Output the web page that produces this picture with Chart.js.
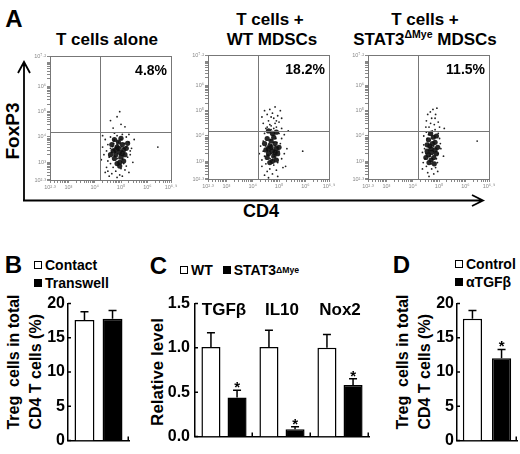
<!DOCTYPE html>
<html>
<head>
<meta charset="utf-8">
<script src="https://cdn.jsdelivr.net/npm/chart.js@4.4.1/dist/chart.umd.min.js"></script>
<style>
  body { margin: 0; background: #fff; }
  #page { position: relative; width: 520px; height: 454px; overflow: hidden; font-family: "Liberation Sans", Arial, sans-serif; color: #000; }
  canvas { position: absolute; }
  .t { position: absolute; transform: translate(-50%, -50%); white-space: pre; line-height: 1; font-weight: bold; text-align: center; }
  .rot { transform: translate(-50%, -50%) rotate(-90deg); }
  .lg { position: absolute; font-weight: bold; font-size: 14px; white-space: nowrap; }
  .lg .row { display: flex; align-items: center; height: 18px; }
  .lg .bx { display: inline-block; box-sizing: border-box; width: 8px; height: 8px; border: 1.5px solid #000; margin-right: 3px; }
  sup { font-size: 62%; line-height: 0; }
</style>
</head>
<body>
<div id="page">
  <svg width="520" height="454" style="position:absolute;left:0;top:0">
    <g stroke="#000" stroke-width="1.8" fill="none">
      <path d="M24 201 L24 62 M18 73 L24 62 L30 73"/>
      <path d="M23 200.5 L483 200.5 M472 195 L483 200.5 L472 206"/>
    </g>
  </svg>

  <div class="t" style="left:14px;top:19px;font-size:24px">A</div>
  <div class="t" style="left:107px;top:39px;font-size:17px">T cells alone</div>
  <div class="t" style="left:270px;top:19px;font-size:17px">T cells +</div>
  <div class="t" style="left:272px;top:39px;font-size:17px">WT MDSCs</div>
  <div class="t" style="left:425px;top:19px;font-size:17px">T cells +</div>
  <div class="t" style="left:425px;top:39px;font-size:17px">STAT3<sup>ΔMye</sup> MDSCs</div>
  <div class="t rot" style="left:12px;top:131px;font-size:19px">FoxP3</div>
  <div class="t" style="left:261px;top:211px;font-size:18px">CD4</div>

  <canvas id="facs1" width="148" height="141" style="left:32px;top:51px"></canvas>
  <canvas id="facs2" width="148" height="141" style="left:190px;top:50px"></canvas>
  <canvas id="facs3" width="148" height="141" style="left:350px;top:50px"></canvas>

  <div class="t" style="left:13.5px;top:265px;font-size:24px">B</div>
  <div class="t" style="left:158.5px;top:265.5px;font-size:24px">C</div>
  <div class="t" style="left:401.5px;top:265px;font-size:24px">D</div>

  <div id="lgB" class="lg" style="left:34px;top:256px"></div>
  <div id="lgC" class="lg" style="left:180px;top:261px"></div>
  <div id="lgD" class="lg" style="left:455px;top:255px"></div>

  <div class="t rot" style="left:24.5px;top:362px;font-size:16px;line-height:22px;text-align:left">Treg  cells in total
CD4 T cells (%)</div>
  <div class="t rot" style="left:157px;top:372px;font-size:17px">Relative level</div>
  <div class="t rot" style="left:413.5px;top:362px;font-size:16px;line-height:22px;text-align:left">Treg  cells in total
CD4 T cells (%)</div>

  <canvas id="barB" width="96" height="162" style="left:36px;top:291px"></canvas>
  <canvas id="barC" width="211" height="162" style="left:161px;top:289px"></canvas>
  <canvas id="barD" width="95" height="162" style="left:425px;top:291px"></canvas>
</div>

<script>
Chart.defaults.font.family = '"Liberation Sans", Arial, sans-serif';

// ---- panel A: dot plots, log10 CD4 (x) vs log10 FoxP3 (y)
// *Core = the solid dark middle of each cloud, *Dots = the loose cells round it
var aloneCore = [
  [4.95,3.4],[4.8,3.3],[5.1,3.5],[4.85,3.6],[5.0,3.2],[4.7,3.45],[5.15,3.3],[4.9,3.8],[5.05,3.7],[4.75,3.15],
  [4.95,3.0],[5.2,3.55],[4.65,3.7],[4.85,2.95],[5.1,3.05],[4.75,3.9],[5.0,3.95],[4.9,3.55],[5.05,3.35],[4.8,3.5],
  [4.6,3.3],[5.25,3.75],[4.95,2.85]
];
var aloneDots = [
  [4.9,3.5],[4.8,3.4],[5.0,3.6],[4.7,3.5],[4.85,3.7],[4.95,3.3],[5.05,3.45],[4.75,3.25],[4.9,3.8],[4.8,3.6],
  [5.1,3.55],[4.65,3.4],[4.88,3.15],[5.0,3.9],[4.72,3.75],[5.12,3.75],[4.68,3.62],[4.74,3.88],[5.06,3.12],[4.6,3.55],
  [4.55,3.2],[4.5,3.7],[5.2,3.6],[5.25,3.2],[4.6,2.95],[4.9,2.9],[5.1,2.95],[4.7,2.8],[4.45,3.45],[5.3,3.8],
  [4.6,4.0],[4.85,4.05],[5.05,4.1],[4.75,4.15],[5.2,4.0],[4.4,3.9],[4.5,3.05],[5.0,2.75],[4.8,2.65],[5.15,2.7],
  [4.65,2.55],[4.95,2.5],[4.45,2.8],[5.35,3.3],[4.35,3.3],[4.3,3.6],[4.25,3.1],[5.4,3.55],[5.45,3.0],[4.55,2.45],
  [5.05,2.45],[4.85,2.4],[4.4,2.6],[5.3,2.6],[5.5,3.9],[4.3,4.05],[5.3,4.1],[4.5,2.65],[5.2,2.85],[5.35,3.45],
  [4.7,4.35],[5.0,4.5],[4.85,4.8],[5.15,4.4],[4.6,4.65],[4.95,5.0],[6.4,3.6]
];
var wtCore = [
  [4.75,3.4],[4.6,3.3],[4.9,3.5],[4.65,3.6],[4.8,3.2],[4.5,3.45],[4.95,3.3],[4.7,3.8],[4.85,3.7],[4.55,3.15],
  [4.75,3.0],[5.0,3.55],[4.45,3.7],[4.65,2.95],[4.9,3.05],[4.55,3.9],[4.8,3.95],[4.7,3.55],[4.85,3.35],[4.6,3.5],
  [4.75,4.1],[4.6,4.2],[4.9,4.15]
];
var wtDots = [
  [4.75,3.5],[4.65,3.4],[4.85,3.6],[4.7,3.3],[4.8,3.75],[4.6,3.55],[4.9,3.35],[4.72,3.65],[4.82,3.2],[4.68,3.85],
  [4.58,3.25],[4.95,3.55],[4.62,3.7],[4.88,3.9],[4.55,3.45],[4.75,3.05],[4.66,3.1],[4.92,3.75],[4.5,3.6],[5.0,3.4],
  [4.45,3.2],[4.4,3.8],[5.05,3.7],[5.1,3.1],[4.5,2.9],[4.8,2.85],[4.65,2.7],[4.95,2.95],[4.4,3.4],[5.1,3.9],
  [4.55,2.6],[4.75,2.5],[4.9,2.65],[4.45,2.45],[5.2,3.3],[4.35,3.05],[4.3,3.6],[5.0,4.1],[4.45,4.1],[4.95,2.4],
  [4.6,2.35],[5.15,2.75],[4.35,2.8],[5.2,4.05],
  [4.5,4.3],[4.7,4.4],[4.9,4.35],[4.6,4.6],[4.8,4.7],[5.0,4.55],[4.4,4.5],[4.75,4.9],[4.55,4.85],[4.95,4.8],
  [4.65,5.05],[4.85,5.15],[5.1,4.3],[4.35,4.75],[4.7,4.25],[4.85,4.5],[5.05,5.0],[4.45,5.0],[4.65,4.45],[4.9,4.6],
  [4.55,4.35],[4.8,4.3],[4.7,4.75],[5.1,4.7],
  [5.3,3.5],[5.35,4.2],[4.25,3.3],[5.25,2.8],[5.9,3.4]
];
var koCore = [
  [4.72,3.35],[4.6,3.25],[4.85,3.45],[4.65,3.6],[4.8,3.15],[4.55,3.4],[4.9,3.3],[4.7,3.05],[4.75,3.7],[4.62,2.95],
  [4.85,3.75],[4.55,3.65],[4.95,3.55],[4.7,3.5],[4.82,2.9],[4.6,3.85],[4.78,3.95],[4.68,4.1],[4.9,4.0],[4.5,3.15]
];
var koDots = [
  [4.47,3.1],[4.42,3.65],[4.97,3.3],[5.02,3.9],[4.52,2.8],[4.72,2.7],[4.87,2.75],[4.57,2.55],[4.8,2.5],[4.42,4.0],
  [4.97,4.1],[5.07,3.5],[4.37,3.35],[4.62,2.4],[4.94,2.95],[4.52,4.15],[4.74,4.2],[4.6,3.42],[4.8,3.6],[4.65,3.2],
  [4.9,3.1],[4.55,3.9],[4.85,4.25],[4.68,4.5],[4.45,3.5],[5.05,3.7],[4.7,2.9],[4.5,3.3],[4.95,2.6],[4.4,2.95],
  [4.6,4.05],[4.85,4.7],[4.5,4.35],
  [4.62,4.35],[4.82,4.45],[4.72,4.7],[4.97,4.55],[4.52,4.6],[4.87,4.85],[4.67,4.95],[5.02,4.35],[4.77,5.05],[4.57,4.85],
  [4.92,5.1],
  [5.17,3.2],[5.2,4.3],[4.37,2.7],[6.45,3.8]
];
var facsPct = ['4.8%', '18.2%', '11.5%'];
var gateCD4 = 4.2;
var gateFoxP3 = 4.2;
var fcsTicksX = [2.3, 3, 4, 5, 6, 6.9];
var fcsTicksY = [2.3, 3, 4, 5, 6, 7.2];

// ---- panel B
var bLabels = ['Contact', 'Transwell'];
var contactVal = [17.6], contactErr = [1.2];
var transwellVal = [17.8], transwellErr = [1.2];

// ---- panel C
var genes = ['TGFβ', 'IL10', 'Nox2'];
var cLabels = ['WT', 'STAT3<sup>ΔMye</sup>'];
var wtRel = [1.01, 1.01, 1.00], wtErr = [0.16, 0.19, 0.15];
var koRel = [0.44, 0.08, 0.58], koErr = [0.08, 0.03, 0.07];
var koSig = [true, true, true];

// ---- panel D
var dLabels = ['Control', 'αTGFβ'];
var controlVal = [17.8], controlErr = [1.2];
var antiVal = [12.0], antiErr = [1.3];
var antiSig = [true];

var supMap = {'0':'⁰','1':'¹','2':'²','3':'³','4':'⁴','5':'⁵','6':'⁶','7':'⁷','8':'⁸','9':'⁹','.':'·'};
function expLabel(v) {
  return '10' + String(v).split('').map(function(c) { return supMap[c]; }).join('');
}

// major ticks get a label, the in-between decade ticks only a mark
function logTicks(lo, hi, major) {
  var t = major.map(function(v) { return {value: v, lab: true}; });
  for (var n = 2; n < 8; n++) {
    for (var k = 2; k < 10; k++) {
      var v = n + Math.log10(k);
      if (v > lo && v < hi) t.push({value: v, lab: false});
    }
  }
  return t.sort(function(a, b) { return a.value - b.value; });
}

var facsFrame = {
  id: 'facsFrame',
  afterDatasetsDraw: function(chart, args, o) {
    var ctx = chart.ctx, a = chart.chartArea;
    var gx = chart.scales.x.getPixelForValue(o.gateX);
    var gy = chart.scales.y.getPixelForValue(o.gateY);
    ctx.save();
    ctx.strokeStyle = '#777';
    ctx.lineWidth = 1;
    ctx.strokeRect(a.left + 0.5, a.top + 0.5, a.right - a.left, a.bottom - a.top);
    ctx.beginPath();
    ctx.moveTo(Math.round(gx) + 0.5, a.top); ctx.lineTo(Math.round(gx) + 0.5, a.bottom);
    ctx.moveTo(a.left, Math.round(gy) + 0.5); ctx.lineTo(a.right, Math.round(gy) + 0.5);
    ctx.stroke();
    ctx.fillStyle = '#000';
    ctx.font = 'bold 14px "Liberation Sans", Arial, sans-serif';
    ctx.textAlign = 'right';
    ctx.textBaseline = 'middle';
    ctx.fillText(o.pct, a.right - 4, a.top + 15);
    ctx.restore();
  }
};

function toXY(list) {
  return list.map(function(p) { return {x: p[0], y: p[1]}; });
}

function makeFacs(id, core, dots, pct) {
  var tickFont = {size: 5.5};
  return new Chart(document.getElementById(id), {
    type: 'scatter',
    data: {
      datasets: [
        {data: toXY(core), pointRadius: 2.6, pointBorderWidth: 0, pointBackgroundColor: 'rgba(15,15,15,0.9)'},
        {data: toXY(dots), pointRadius: 0.9, pointBorderWidth: 0, pointBackgroundColor: '#222'}
      ]
    },
    plugins: [facsFrame],
    options: {
      responsive: false,
      animation: false,
      events: [],
      layout: {padding: {top: 5, right: 9, left: 0, bottom: 0}},
      plugins: {
        legend: {display: false},
        tooltip: {enabled: false},
        facsFrame: {gateX: gateCD4, gateY: gateFoxP3, pct: pct}
      },
      scales: {
        x: {
          type: 'linear', min: 2.3, max: 6.9,
          afterBuildTicks: function(s) { s.ticks = logTicks(2.3, 6.9, fcsTicksX); },
          afterFit: function(s) { s.height = 12; },
          ticks: {
            autoSkip: false, maxRotation: 0, minRotation: 0, padding: 1,
            color: '#888', font: tickFont,
            callback: function(v, i, t) { return t[i].lab ? expLabel(v) : ''; }
          },
          grid: {drawOnChartArea: false, tickLength: 3, color: '#888'},
          border: {color: '#777'}
        },
        y: {
          type: 'linear', min: 2.3, max: 7.2,
          afterBuildTicks: function(s) { s.ticks = logTicks(2.3, 7.2, fcsTicksY); },
          afterFit: function(s) { s.width = 18; },
          ticks: {
            autoSkip: false, padding: 1,
            color: '#888', font: tickFont,
            callback: function(v, i, t) { return t[i].lab ? expLabel(v) : ''; }
          },
          grid: {drawOnChartArea: false, tickLength: 3, color: '#888'},
          border: {color: '#777'}
        }
      }
    }
  });
}

makeFacs('facs1', aloneCore, aloneDots, facsPct[0]);
makeFacs('facs2', wtCore, wtDots, facsPct[1]);
makeFacs('facs3', koCore, koDots, facsPct[2]);

// error bars (upper only), stars, inward ticks, group names
var barDecor = {
  id: 'barDecor',
  afterDatasetsDraw: function(chart, args, o) {
    var ctx = chart.ctx, a = chart.chartArea;
    var xs = chart.scales.x, ys = chart.scales.y;
    ctx.save();
    ctx.strokeStyle = '#000';
    ctx.fillStyle = '#000';
    ctx.lineWidth = 1.5;
    chart.data.datasets.forEach(function(ds, di) {
      chart.getDatasetMeta(di).data.forEach(function(bar, i) {
        var top = ys.getPixelForValue(ds.data[i] + ds.err[i]);
        ctx.beginPath();
        ctx.moveTo(bar.x, bar.y); ctx.lineTo(bar.x, top);
        ctx.moveTo(bar.x - 4, top); ctx.lineTo(bar.x + 4, top);
        ctx.stroke();
        if (ds.sig && ds.sig[i]) {
          ctx.font = 'bold 15px "Liberation Sans", Arial, sans-serif';
          ctx.textAlign = 'center';
          ctx.textBaseline = 'alphabetic';
          ctx.fillText('*', bar.x, top + 2);
        }
      });
    });
    // inward tick marks
    ctx.beginPath();
    ys.ticks.forEach(function(t) {
      var y = ys.getPixelForValue(t.value);
      ctx.moveTo(a.left, y); ctx.lineTo(a.left + 3, y);
    });
    var n = chart.data.labels.length, w = (a.right - a.left) / n;
    for (var i = 1; i <= n; i++) {
      var x = a.left + w * i - 0.75;
      ctx.moveTo(x, a.bottom); ctx.lineTo(x, a.bottom - 4);
    }
    ctx.stroke();
    if (o.showGroups) {
      ctx.font = 'bold 17px "Liberation Sans", Arial, sans-serif';
      ctx.textAlign = 'center';
      ctx.textBaseline = 'middle';
      chart.data.labels.forEach(function(l, i) {
        ctx.fillText(l, xs.getPixelForValue(i), a.top + 7);
      });
    }
    ctx.restore();
  }
};

function makeBars(id, labels, sets, yMax, yStep, yWidth, tickPad, catPct, barPct, fmt, showGroups) {
  return new Chart(document.getElementById(id), {
    type: 'bar',
    data: {
      labels: labels,
      datasets: sets.map(function(s) {
        return {
          label: s.label, data: s.data, err: s.err, sig: s.sig,
          backgroundColor: s.fill, borderColor: '#000', borderWidth: 1.5,
          categoryPercentage: catPct, barPercentage: barPct
        };
      })
    },
    plugins: [barDecor],
    options: {
      responsive: false,
      animation: false,
      events: [],
      layout: {padding: {top: 10, right: 3, left: 0, bottom: 10}},
      plugins: {
        legend: {display: false},
        tooltip: {enabled: false},
        barDecor: {showGroups: showGroups}
      },
      scales: {
        x: {
          ticks: {display: false},
          grid: {display: false, drawTicks: false},
          border: {color: '#000', width: 1.5},
          afterFit: function(s) { s.height = 0; }
        },
        y: {
          min: 0, max: yMax,
          ticks: {
            stepSize: yStep, padding: tickPad, color: '#000',
            font: {size: 16, weight: 'bold'},
            callback: fmt
          },
          grid: {display: false, drawTicks: false},
          border: {color: '#000', width: 1.5},
          afterFit: function(s) { s.width = yWidth; }
        }
      }
    }
  });
}

function legend(id, labels, oneRow) {
  var el = document.getElementById(id);
  var fills = ['#fff', '#000'];
  var html = oneRow ? '<div class="row">' : '';
  labels.forEach(function(l, i) {
    var item = '<i class="bx" style="background:' + fills[i] + '"></i>' + l;
    html += oneRow ? '<span style="display:flex;align-items:center;margin-right:10px">' + item + '</span>' : '<div class="row">' + item + '</div>';
  });
  if (oneRow) html += '</div>';
  el.innerHTML = html;
}

var plain = function(v) { return v; };
var oneDec = function(v) { return v.toFixed(1); };

makeBars('barB', [''], [
  {label: bLabels[0], data: contactVal, err: contactErr, fill: '#fff'},
  {label: bLabels[1], data: transwellVal, err: transwellErr, fill: '#000'}
], 20, 5, 32, 3, 0.92, 0.71, plain, false);

makeBars('barC', genes, [
  {label: cLabels[0], data: wtRel, err: wtErr, fill: '#fff'},
  {label: cLabels[1], data: koRel, err: koErr, sig: koSig, fill: '#000'}
], 1.5, 0.5, 34, 5, 0.9, 0.73, oneDec, true);

makeBars('barD', [''], [
  {label: dLabels[0], data: controlVal, err: controlErr, fill: '#fff'},
  {label: dLabels[1], data: antiVal, err: antiErr, sig: antiSig, fill: '#000'}
], 20, 5, 32, 3, 0.97, 0.66, plain, false);

legend('lgB', bLabels, false);
legend('lgC', cLabels, true);
legend('lgD', dLabels, false);
</script>
</body>
</html>
